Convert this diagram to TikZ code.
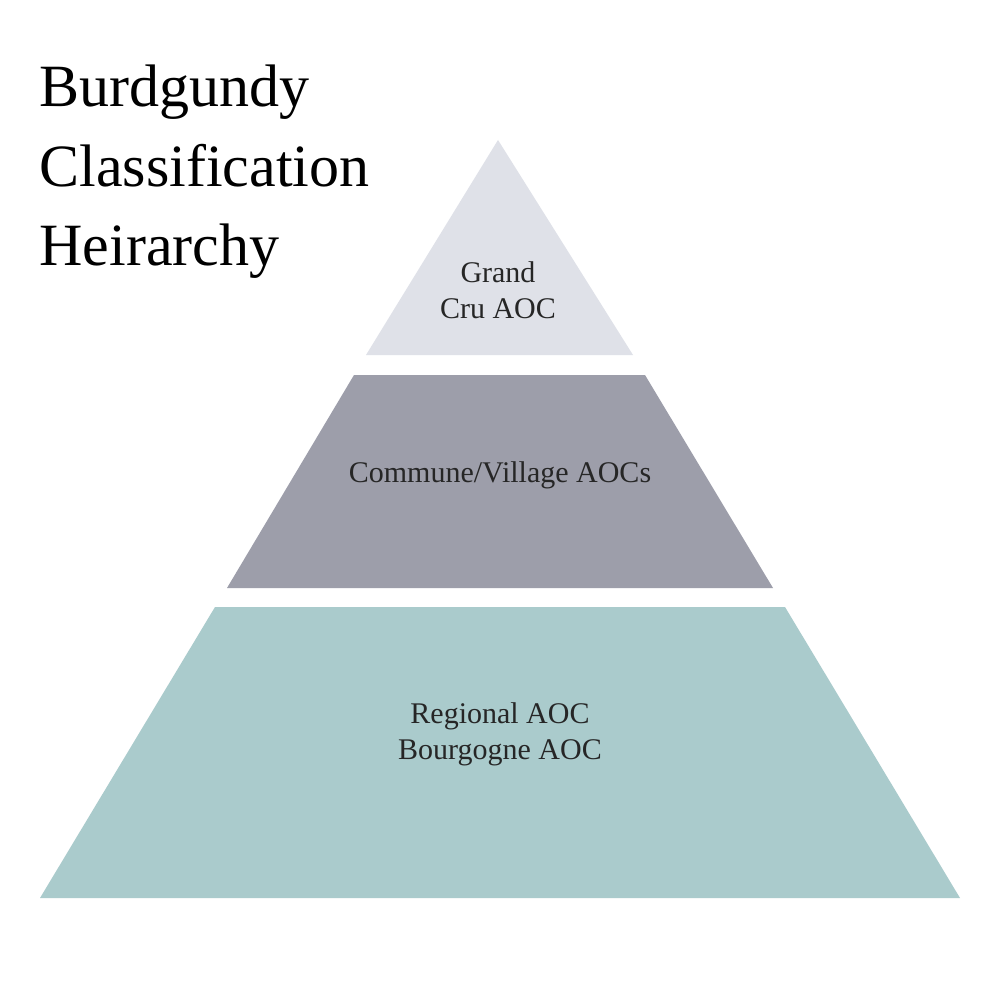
\documentclass[tikz,border=0pt]{standalone}
\usepackage{fontspec}
\setmainfont{Liberation Serif}
\definecolor{topc}{HTML}{DFE1E8}
\definecolor{midc}{HTML}{9D9EAA}
\definecolor{botc}{HTML}{AACBCC}
\begin{document}
\begin{tikzpicture}[x=1pt,y=-1pt,
  lbl/.style={font=\fontsize{30}{36}\selectfont, align=center, text=black!85},
  ttl/.style={font=\fontsize{60}{78}\selectfont, anchor=base west}]
\useasboundingbox[fill=white] (0,0) rectangle (1000,1000);
\fill[topc] (498,140) -- (633,355) -- (366,355) -- cycle;
\fill[midc] (354,375) -- (645,375) -- (773,588) -- (227,588) -- cycle;
\fill[botc] (215,607) -- (785,607) -- (960,898) -- (40,898) -- cycle;
\node[ttl] (t1) at (36,107) {Burdgundy};
\node[ttl] (t2) at (36,187) {Classification};
\node[ttl] (t3) at (36,265) {Heirarchy};
\node[lbl] (g) at (498,290) {Grand\\Cru AOC};
\node[lbl] (c) at (500,475) {Commune/Village AOCs};
\node[lbl] (r) at (500,734) {Regional AOC\\Bourgogne AOC};
\end{tikzpicture}
\end{document}
